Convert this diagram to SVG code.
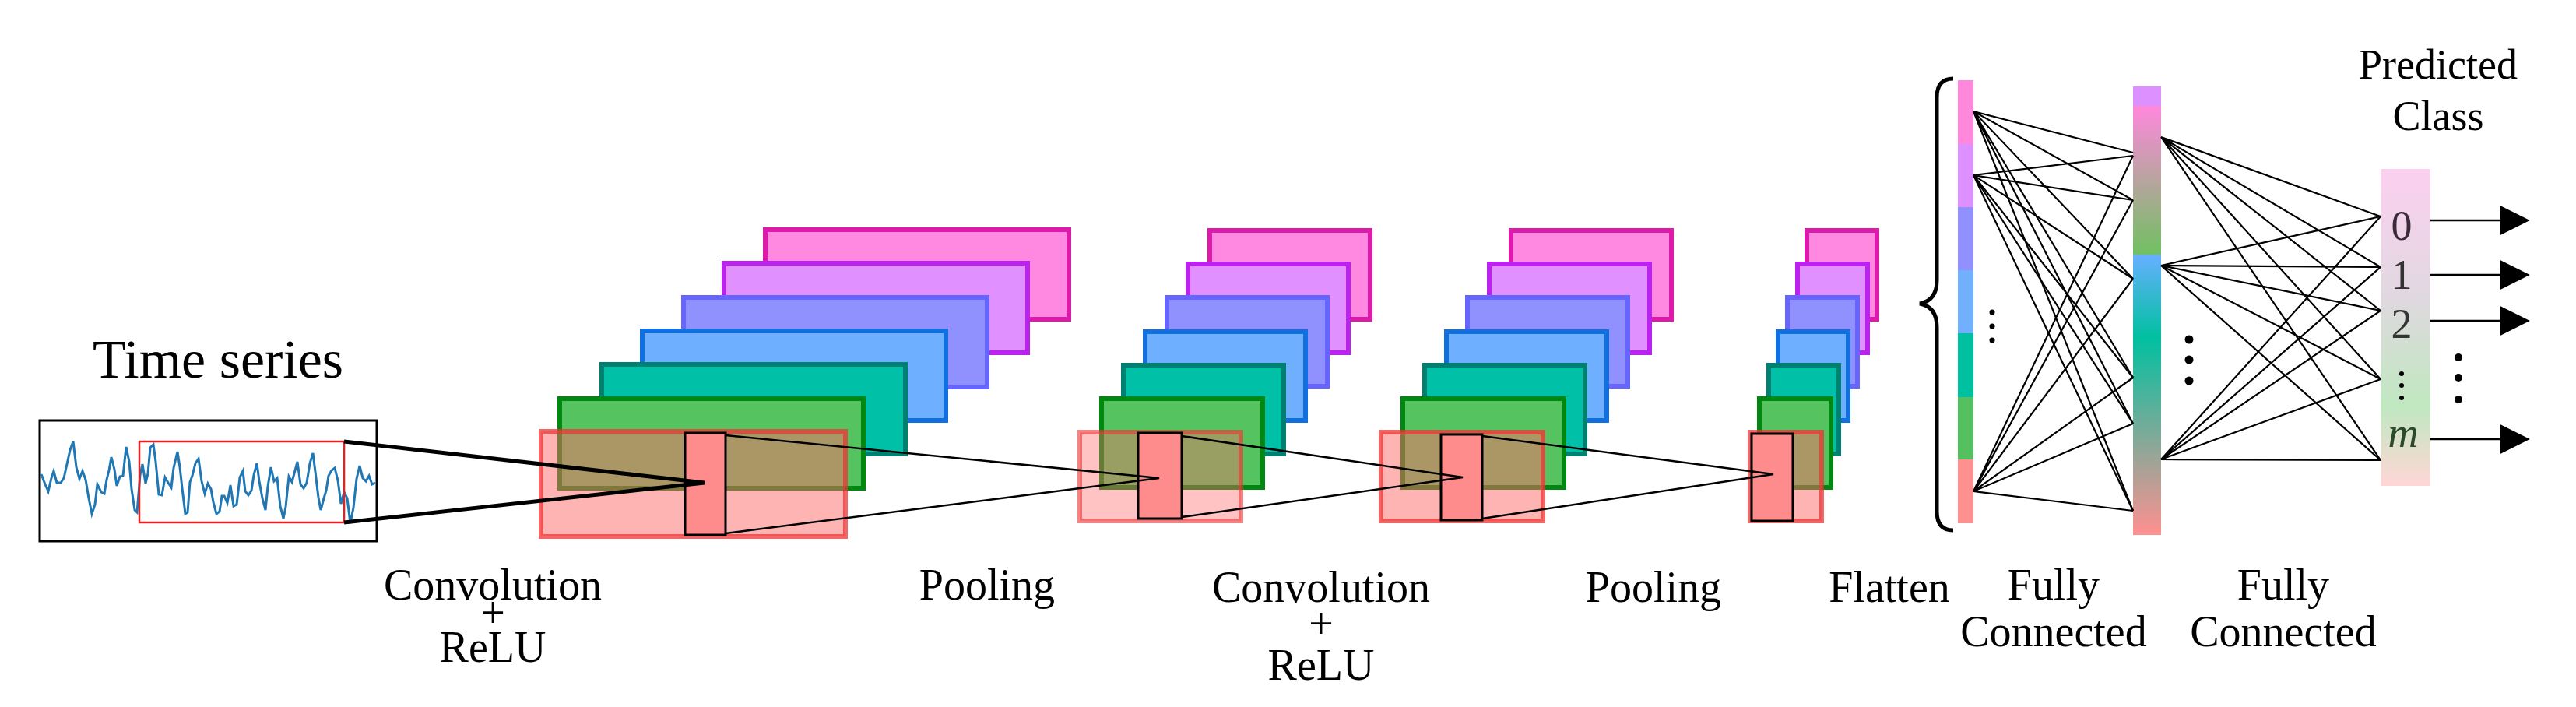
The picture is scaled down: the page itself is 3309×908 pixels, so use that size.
<svg xmlns="http://www.w3.org/2000/svg" width="3309" height="908" viewBox="0 0 3309 908">
<style>
text{font-family:"Liberation Serif","Times New Roman",serif;fill:#000}
.lbl{font-size:56px;text-anchor:middle}
.pk{fill:#ff88e0;stroke:#dd1aaa;stroke-width:6}
.vi{fill:#e090ff;stroke:#bb22ee;stroke-width:6}
.pw{fill:#9090ff;stroke:#6666ff;stroke-width:6}
.bl{fill:#6eb0ff;stroke:#1070e0;stroke-width:6}
.tl{fill:#00c0a8;stroke:#008070;stroke-width:6}
.gr{fill:#55c460;stroke:#008810;stroke-width:6}
.rd{fill:#ff6a6a;fill-opacity:.5;stroke:#ee3333;stroke-opacity:.75;stroke-width:6}
.kn{fill:#ff8c8c;stroke:#000;stroke-width:3}
.ln{stroke:#000;stroke-width:2.5;fill:none}
.fc{stroke:#000;stroke-width:2.2;fill:none}
</style>
<defs>
<linearGradient id="hg" x1="0" y1="0" x2="0" y2="1">
<stop offset="0" stop-color="#dd90ff"/><stop offset="0.043" stop-color="#dd90ff"/>
<stop offset="0.044" stop-color="#ff88dd"/><stop offset="0.375" stop-color="#70c060"/>
<stop offset="0.376" stop-color="#66b0ff"/><stop offset="0.56" stop-color="#00c0a0"/>
<stop offset="0.8" stop-color="#8aa898"/><stop offset="1" stop-color="#ff9090"/>
</linearGradient>
<linearGradient id="og" x1="0" y1="0" x2="0" y2="1">
<stop offset="0" stop-color="#fcd0f0"/><stop offset="0.4" stop-color="#e0d8e0"/>
<stop offset="0.75" stop-color="#c0e8c0"/><stop offset="1" stop-color="#ffd6d6"/>
</linearGradient>
</defs>

<g id="input">
<text x="280" y="485" style="font-size:70px" text-anchor="middle">Time series</text>
<rect x="51" y="540" width="433" height="155" fill="#fff" stroke="#000" stroke-width="3"/>
<path d="M53,609 L58,622 L62,631 L66,614 L69,605 L73,620 L78,620 L82,614 L86,596 L90,578 L94,567 L98,600 L102,615 L106,605 L110,616 L114,640 L118,660 L122,648 L125,622 L130,632 L134,634 L137,616 L140,604 L143,587 L147,603 L150,624 L154,612 L158,611 L162,574 L166,593 L169,628 L173,655 L176,658 L180,610 L183,596 L187,621 L190,608 L193,575 L197,571 L200,593 L204,635 L208,636 L212,613 L216,620 L220,626 L223,601 L228,580 L231,600 L234,627 L238,660 L241,658 L244,619 L247,611 L251,595 L255,589 L259,618 L263,634 L267,621 L271,628 L274,645 L278,660 L282,657 L285,637 L288,637 L292,646 L296,623 L300,650 L304,648 L308,613 L312,605 L315,631 L319,636 L323,630 L326,610 L330,595 L333,618 L337,640 L341,655 L344,625 L348,600 L352,618 L356,614 L360,650 L364,666 L367,651 L371,612 L375,619 L378,608 L382,593 L386,622 L390,627 L394,620 L398,595 L402,582 L406,614 L409,639 L412,655 L416,640 L419,630 L422,611 L426,604 L430,601 L434,617 L438,647 L442,632 L446,640 L450,672 L454,652 L458,615 L462,598 L466,614 L470,618 L474,611 L478,622 L482,620" fill="none" stroke="#1f77b4" stroke-width="3"/>
<rect x="179" y="567" width="263" height="104" fill="none" stroke="#e82020" stroke-width="2.5"/>
</g>

<g id="conv1">
<rect class="pk" x="983" y="295" width="390" height="115"/>
<rect class="vi" x="930" y="338" width="390" height="115"/>
<rect class="pw" x="878" y="382" width="390" height="115"/>
<rect class="bl" x="825" y="425" width="390" height="115"/>
<rect class="tl" x="773" y="468" width="390" height="115"/>
<rect class="gr" x="719" y="512" width="390" height="115"/>
<rect class="rd" x="695" y="554" width="391" height="135"/>
<rect class="kn" x="880" y="556" width="52" height="131"/>
</g>

<g id="pool1">
<rect class="pk" x="1554" y="296" width="206" height="114"/>
<rect class="vi" x="1526" y="339" width="206" height="114"/>
<rect class="pw" x="1499" y="382" width="206" height="114"/>
<rect class="bl" x="1471" y="426" width="206" height="114"/>
<rect class="tl" x="1443" y="469" width="206" height="114"/>
<rect class="gr" x="1415" y="512" width="207" height="114"/>
<rect class="rd" x="1387" y="555" width="207" height="114" style="fill-opacity:.4;stroke-opacity:.6"/>
<rect class="kn" x="1462" y="556" width="56" height="110"/>
</g>

<g id="conv2">
<rect class="pk" x="1941" y="296" width="206" height="114"/>
<rect class="vi" x="1913" y="339" width="206" height="114"/>
<rect class="pw" x="1885" y="382" width="206" height="114"/>
<rect class="bl" x="1858" y="426" width="206" height="114"/>
<rect class="tl" x="1830" y="469" width="206" height="114"/>
<rect class="gr" x="1802" y="512" width="207" height="114"/>
<rect class="rd" x="1774" y="555" width="208" height="114"/>
<rect class="kn" x="1851" y="558" width="53" height="110"/>
</g>

<g id="pool2">
<rect class="pk" x="2321" y="296" width="90" height="114"/>
<rect class="vi" x="2309" y="339" width="90" height="114"/>
<rect class="pw" x="2296" y="382" width="90" height="114"/>
<rect class="bl" x="2284" y="426" width="90" height="114"/>
<rect class="tl" x="2272" y="469" width="90" height="114"/>
<rect class="gr" x="2260" y="512" width="92" height="114"/>
<rect class="rd" x="2248" y="555" width="92" height="114"/>
<rect class="kn" x="2250" y="557" width="53" height="112"/>
</g>

<g id="flatten">
<path d="M2509,101 Q2488,101 2488,125 L2488,360 Q2488,386 2466,390 Q2488,394 2488,420 L2488,657 Q2488,681 2509,681" fill="none" stroke="#000" stroke-width="5"/>
<rect x="2515" y="103" width="20" height="82" fill="#ff88dd"/>
<rect x="2515" y="185" width="20" height="81" fill="#dd90ff"/>
<rect x="2515" y="266" width="20" height="81" fill="#9090ff"/>
<rect x="2515" y="347" width="20" height="81" fill="#70b0ff"/>
<rect x="2515" y="428" width="20" height="82" fill="#00c0a0"/>
<rect x="2515" y="510" width="20" height="80" fill="#55c060"/>
<rect x="2515" y="590" width="20" height="82" fill="#ff9090"/>
<circle cx="2559" cy="401" r="3.5"/><circle cx="2559" cy="419" r="3.5"/><circle cx="2559" cy="437" r="3.5"/>
</g>

<g id="hidden">
<rect x="2740" y="111" width="36" height="576" fill="url(#hg)"/>
<circle cx="2812" cy="436" r="5.5"/><circle cx="2812" cy="462" r="5.5"/><circle cx="2812" cy="489" r="5.5"/>
</g>

<g id="output">
<text x="3132" y="101" style="font-size:54px" text-anchor="middle">Predicted</text>
<text x="3132" y="167" style="font-size:54px" text-anchor="middle">Class</text>
<rect x="3058" y="217" width="64" height="407" fill="url(#og)"/>
<g style="font-size:54px" text-anchor="middle">
<text x="3085" y="308" style="fill:#3a2a3a">0</text>
<text x="3085" y="371" style="fill:#333">1</text>
<text x="3085" y="434" style="fill:#333">2</text>
<text x="3087" y="574" font-style="italic" style="fill:#2a4a2a">m</text>
</g>
<circle cx="3085" cy="480" r="3"/><circle cx="3085" cy="495" r="3"/><circle cx="3085" cy="511" r="3"/>
<circle cx="3158" cy="459" r="5"/><circle cx="3158" cy="485" r="5"/><circle cx="3158" cy="513" r="5"/>
</g>

<g id="connectors">
<path d="M442,567 L905,620 L442,671" fill="none" stroke="#000" stroke-width="5"/>
<path class="ln" d="M932,559 L1489,614 L932,685"/>
<path class="ln" d="M1518,560 L1879,613 L1518,664"/>
<path class="ln" d="M1904,560 L2278,609 L1904,666"/>
<g class="fc">
<path d="M2535,143 L2740,196 M2535,143 L2740,257 M2535,143 L2740,358 M2535,143 L2740,485 M2535,143 L2740,544 M2535,143 L2740,656"/>
<path d="M2535,225 L2740,200 M2535,225 L2740,257 M2535,225 L2740,358 M2535,225 L2740,485 M2535,225 L2740,544 M2535,225 L2740,656"/>
<path d="M2535,631 L2740,200 M2535,631 L2740,257 M2535,631 L2740,358 M2535,631 L2740,485 M2535,631 L2740,544 M2535,631 L2740,656"/>
<path d="M2776,176 L3058,278 M2776,176 L3058,343 M2776,176 L3058,399 M2776,176 L3058,487 M2776,176 L3058,591"/>
<path d="M2776,341 L3058,278 M2776,341 L3058,343 M2776,341 L3058,399 M2776,341 L3058,487 M2776,341 L3058,591"/>
<path d="M2776,590 L3058,278 M2776,590 L3058,343 M2776,590 L3058,399 M2776,590 L3058,487 M2776,590 L3058,591"/>
</g>
<g stroke="#000" stroke-width="2.5">
<line x1="3122" y1="283" x2="3213" y2="283"/><polygon points="3213,266 3247,283 3213,300"/>
<line x1="3122" y1="353" x2="3213" y2="353"/><polygon points="3213,336 3247,353 3213,370"/>
<line x1="3122" y1="412" x2="3213" y2="412"/><polygon points="3213,395 3247,412 3213,429"/>
<line x1="3122" y1="564" x2="3213" y2="564"/><polygon points="3213,547 3247,564 3213,581"/>
</g>
</g>

<g id="labels">
<text class="lbl" x="633" y="770">Convolution</text>
<text class="lbl" x="633" y="806">+</text>
<text class="lbl" x="633" y="850">ReLU</text>
<text class="lbl" x="1268" y="770">Pooling</text>
<text class="lbl" x="1697" y="773">Convolution</text>
<text class="lbl" x="1697" y="820">+</text>
<text class="lbl" x="1697" y="873">ReLU</text>
<text class="lbl" x="2124" y="773">Pooling</text>
<text class="lbl" x="2427" y="773">Flatten</text>
<text class="lbl" x="2638" y="770">Fully</text>
<text class="lbl" x="2638" y="830">Connected</text>
<text class="lbl" x="2933" y="770">Fully</text>
<text class="lbl" x="2933" y="830">Connected</text>
</g>
</svg>
